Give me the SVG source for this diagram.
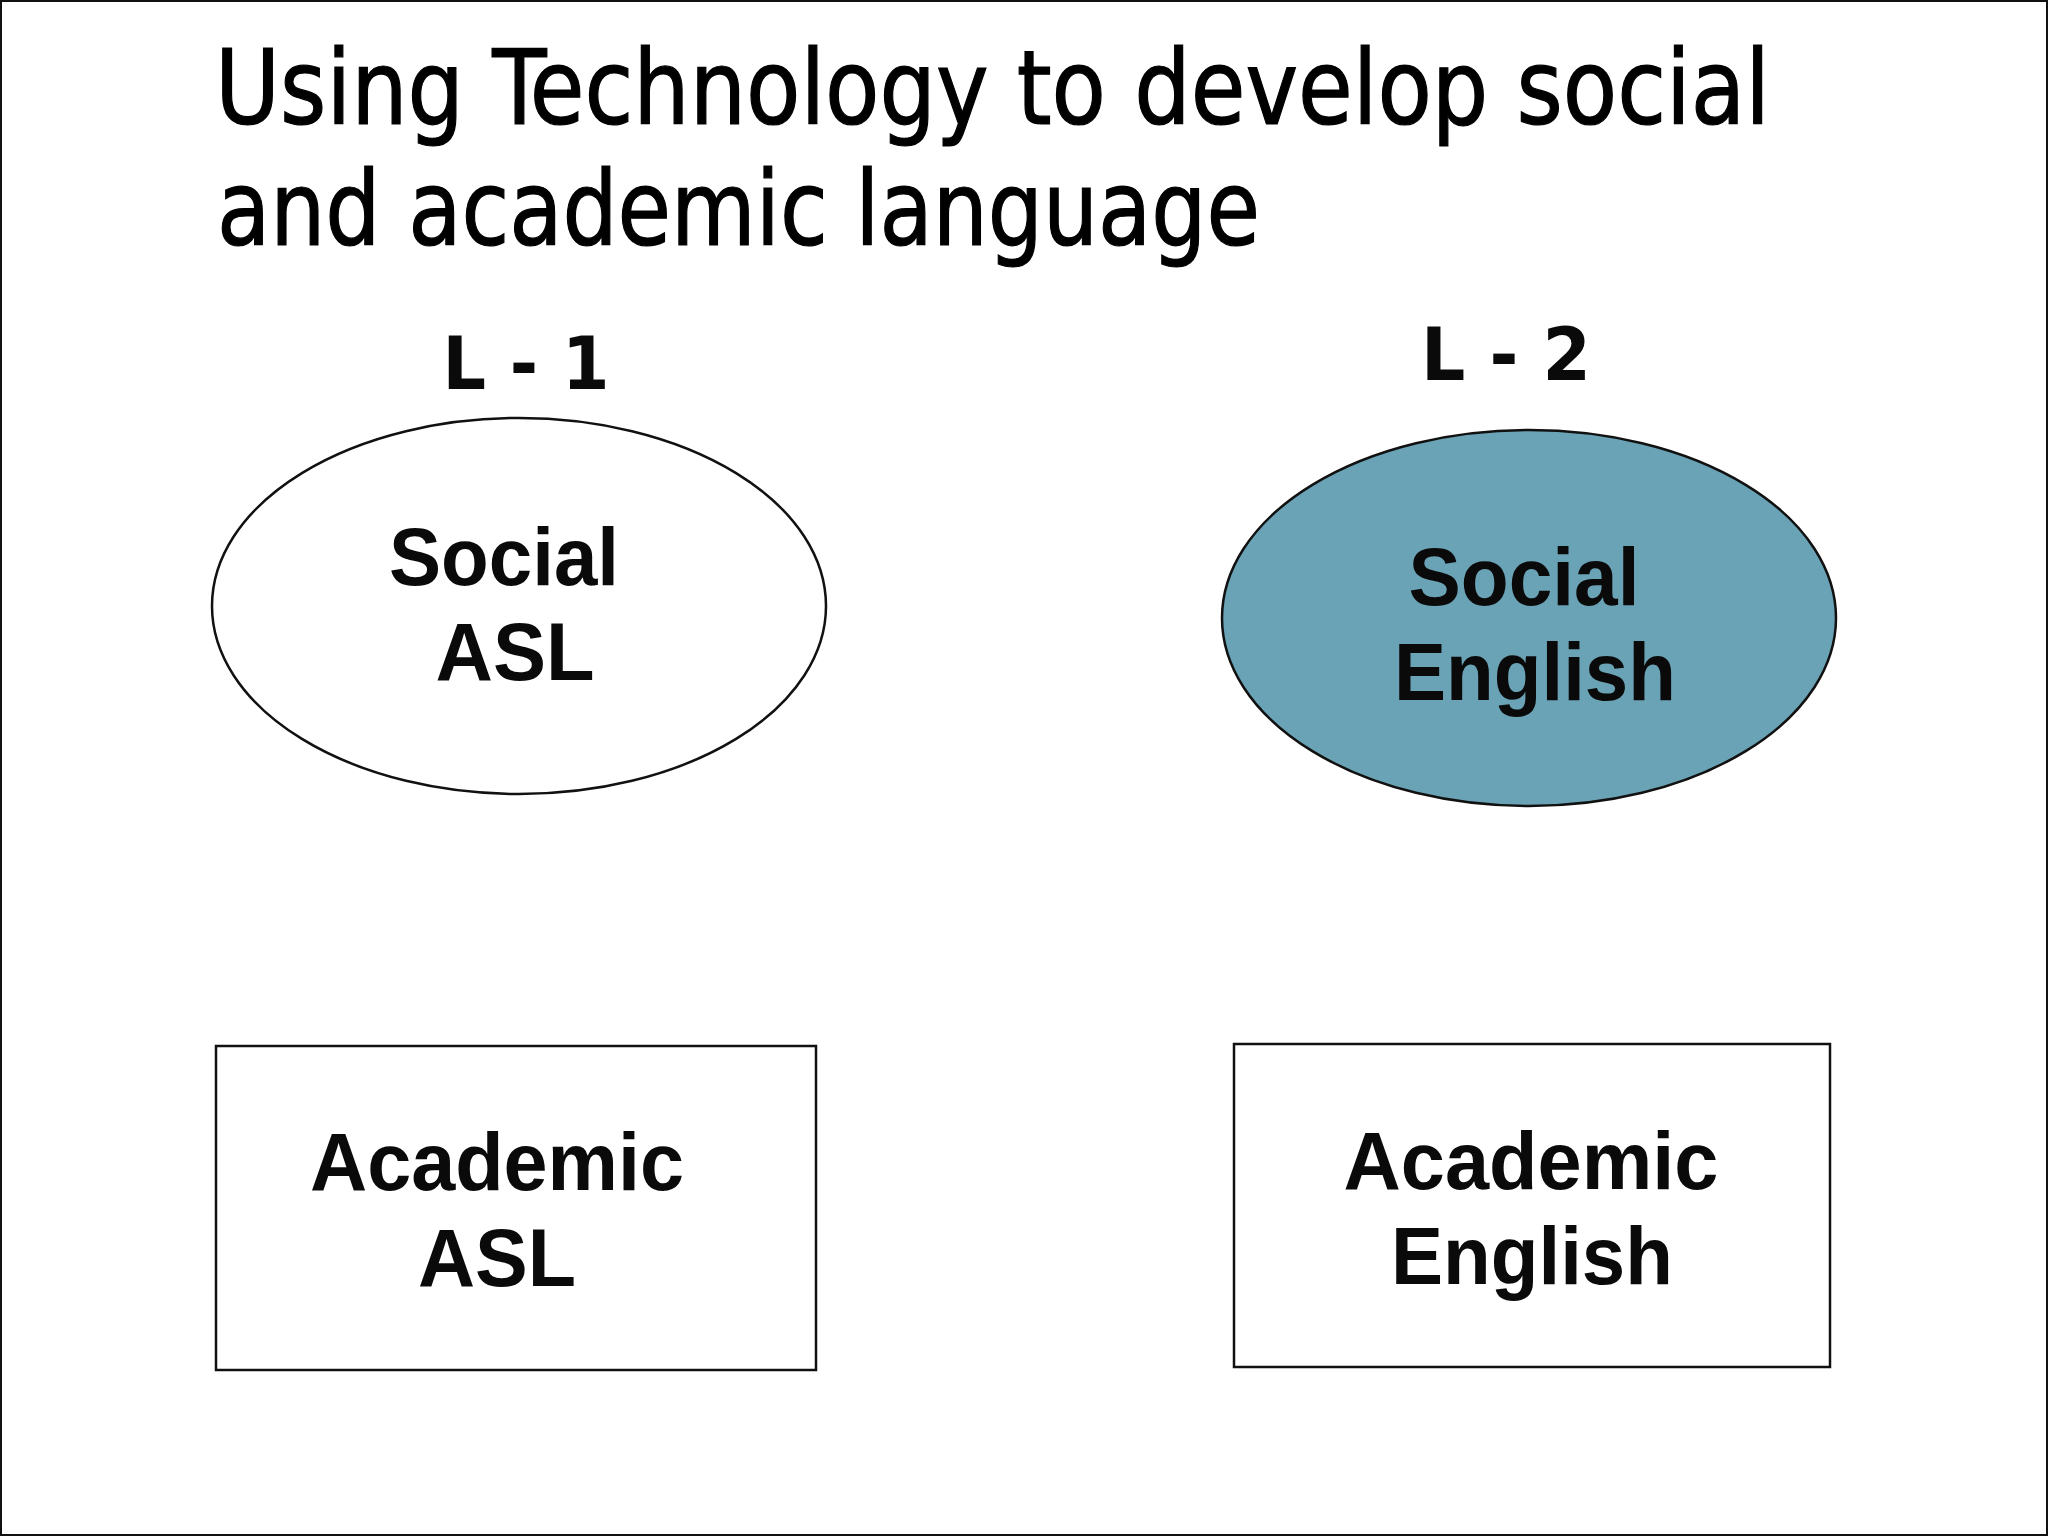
<svg xmlns="http://www.w3.org/2000/svg" width="2048" height="1536" viewBox="0 0 2048 1536">
<style>
.title{font-family:"DejaVu Sans Condensed","DejaVu Sans",sans-serif;font-size:104px;fill:#000;stroke:#000;stroke-width:1.2}
.lvl{font-family:"DejaVu Sans","Liberation Sans",sans-serif;font-weight:bold;font-size:73px;fill:#0a0a0a;text-anchor:middle}
.lbl{font-family:"Liberation Sans",Arial,sans-serif;font-weight:bold;font-size:82px;fill:#0a0a0a;text-anchor:middle}
.shape{stroke:#111;stroke-width:2.5}
</style>
<rect x="0" y="0" width="2048" height="1536" fill="#fff"/>
<rect x="1" y="1" width="2046" height="1534" fill="none" stroke="#111" stroke-width="2"/>
<g id="title">
<text class="title" x="215" y="124" textLength="1555" lengthAdjust="spacingAndGlyphs">Using Technology to develop social</text>
<text class="title" x="217" y="245" textLength="1043" lengthAdjust="spacingAndGlyphs">and academic language</text>
</g>
<g id="label-l1"><text class="lvl" x="526" y="389" textLength="167" lengthAdjust="spacingAndGlyphs">L - 1</text></g>
<g id="label-l2"><text class="lvl" x="1506" y="380" textLength="170" lengthAdjust="spacingAndGlyphs">L - 2</text></g>
<g id="social-asl">
<ellipse class="shape" cx="519" cy="606" rx="307" ry="188" fill="#fff"/>
<text class="lbl" x="504" y="585" textLength="230" lengthAdjust="spacingAndGlyphs">Social</text>
<text class="lbl" x="515" y="680" textLength="159" lengthAdjust="spacingAndGlyphs">ASL</text>
</g>
<g id="social-english">
<ellipse class="shape" cx="1529" cy="618" rx="307" ry="188" fill="#6aa3b6"/>
<text class="lbl" x="1524" y="605" textLength="231" lengthAdjust="spacingAndGlyphs">Social</text>
<text class="lbl" x="1535" y="700" textLength="282" lengthAdjust="spacingAndGlyphs">English</text>
</g>
<g id="academic-asl">
<rect class="shape" x="216" y="1046" width="600" height="324" fill="#fff"/>
<text class="lbl" x="497" y="1190" textLength="374" lengthAdjust="spacingAndGlyphs">Academic</text>
<text class="lbl" x="497" y="1286" textLength="158" lengthAdjust="spacingAndGlyphs">ASL</text>
</g>
<g id="academic-english">
<rect class="shape" x="1234" y="1044" width="596" height="323" fill="#fff"/>
<text class="lbl" x="1531" y="1189" textLength="375" lengthAdjust="spacingAndGlyphs">Academic</text>
<text class="lbl" x="1532" y="1284" textLength="282" lengthAdjust="spacingAndGlyphs">English</text>
</g>
<g id="connectors"></g>
</svg>
